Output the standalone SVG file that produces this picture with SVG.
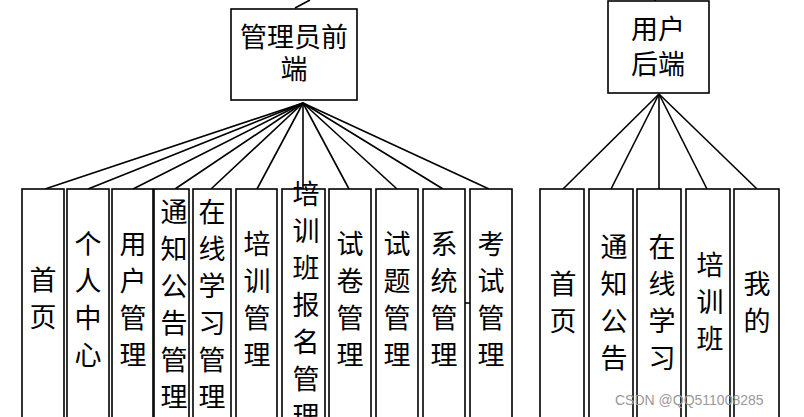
<svg xmlns="http://www.w3.org/2000/svg" width="804" height="417" viewBox="0 0 804 417">
<style>
.b{fill:#fff;stroke:#000;stroke-width:1.6}
.t{font-family:"Liberation Sans","Noto Sans CJK SC",sans-serif;font-size:27px;fill:#000;text-anchor:middle}
.c line{stroke:#000;stroke-width:1.6}
</style>
<rect width="804" height="417" fill="#fff"/>
<g class="c" id="connectors">
<line x1="295" y1="8" x2="310" y2="0"/>
<line x1="655" y1="0" x2="655" y2="1"/>
<line x1="303" y1="103" x2="45" y2="189"/>
<line x1="303" y1="103" x2="88" y2="189"/>
<line x1="303" y1="103" x2="133" y2="189"/>
<line x1="303" y1="103" x2="175" y2="189"/>
<line x1="303" y1="103" x2="211" y2="189"/>
<line x1="303" y1="103" x2="257" y2="189"/>
<line x1="303" y1="103" x2="303" y2="189"/>
<line x1="303" y1="103" x2="349" y2="189"/>
<line x1="303" y1="103" x2="397" y2="189"/>
<line x1="303" y1="103" x2="443" y2="189"/>
<line x1="303" y1="103" x2="489" y2="189"/>
<line x1="465" y1="303" x2="470" y2="303"/>
<line x1="659" y1="94" x2="563" y2="189"/>
<line x1="659" y1="94" x2="611" y2="189"/>
<line x1="659" y1="94" x2="659" y2="189"/>
<line x1="659" y1="94" x2="707" y2="189"/>
<line x1="659" y1="94" x2="757" y2="189"/>
</g>
<g id="admin"><rect class="b" x="231" y="9" width="126" height="91"/><text class="t" x="294" y="47">管理员前</text><text class="t" x="294" y="79">端</text></g>
<g id="user"><rect class="b" x="608" y="1" width="101" height="92"/><text class="t" x="658" y="39">用户</text><text class="t" x="658" y="74">后端</text></g>
<g id="a1"><rect class="b" x="22" y="189" width="42" height="240"/><text class="t" x="43" y="290">首<tspan x="43" dy="37">页</tspan></text></g>
<g id="a2"><rect class="b" x="67" y="189" width="42" height="240"/><text class="t" x="88" y="254">个<tspan x="88" dy="37">人</tspan><tspan x="88" dy="37">中</tspan><tspan x="88" dy="37">心</tspan></text></g>
<g id="a3"><rect class="b" x="112" y="189" width="41" height="240"/><text class="t" x="133" y="254">用<tspan x="133" dy="37">户</tspan><tspan x="133" dy="37">管</tspan><tspan x="133" dy="37">理</tspan></text></g>
<g id="a4"><rect class="b" x="154" y="189" width="35" height="240"/><text class="t" x="174" y="222">通<tspan x="174" dy="37">知</tspan><tspan x="174" dy="37">公</tspan><tspan x="174" dy="37">告</tspan><tspan x="174" dy="37">管</tspan><tspan x="174" dy="37">理</tspan></text></g>
<g id="a5"><rect class="b" x="193" y="189" width="38" height="240"/><text class="t" x="212" y="222">在<tspan x="212" dy="37">线</tspan><tspan x="212" dy="37">学</tspan><tspan x="212" dy="37">习</tspan><tspan x="212" dy="37">管</tspan><tspan x="212" dy="37">理</tspan></text></g>
<g id="a6"><rect class="b" x="236" y="189" width="41" height="240"/><text class="t" x="257" y="254">培<tspan x="257" dy="37">训</tspan><tspan x="257" dy="37">管</tspan><tspan x="257" dy="37">理</tspan></text></g>
<g id="a7"><rect class="b" x="282" y="189" width="43" height="240"/><text class="t" x="306" y="204">培<tspan x="306" dy="37">训</tspan><tspan x="306" dy="37">班</tspan><tspan x="306" dy="37">报</tspan><tspan x="306" dy="37">名</tspan><tspan x="306" dy="37">管</tspan><tspan x="306" dy="37">理</tspan></text></g>
<g id="a8"><rect class="b" x="329" y="189" width="42" height="240"/><text class="t" x="350" y="254">试<tspan x="350" dy="37">卷</tspan><tspan x="350" dy="37">管</tspan><tspan x="350" dy="37">理</tspan></text></g>
<g id="a9"><rect class="b" x="376" y="189" width="42" height="240"/><text class="t" x="397" y="254">试<tspan x="397" dy="37">题</tspan><tspan x="397" dy="37">管</tspan><tspan x="397" dy="37">理</tspan></text></g>
<g id="a10"><rect class="b" x="423" y="189" width="42" height="240"/><text class="t" x="444" y="254">系<tspan x="444" dy="37">统</tspan><tspan x="444" dy="37">管</tspan><tspan x="444" dy="37">理</tspan></text></g>
<g id="a11"><rect class="b" x="470" y="189" width="42" height="240"/><text class="t" x="491" y="254">考<tspan x="491" dy="37">试</tspan><tspan x="491" dy="37">管</tspan><tspan x="491" dy="37">理</tspan></text></g>
<g id="u1"><rect class="b" x="540" y="189" width="44" height="240"/><text class="t" x="563" y="294">首<tspan x="563" dy="37">页</tspan></text></g>
<g id="u2"><rect class="b" x="589" y="189" width="44" height="240"/><text class="t" x="614" y="257">通<tspan x="614" dy="37">知</tspan><tspan x="614" dy="37">公</tspan><tspan x="614" dy="37">告</tspan></text></g>
<g id="u3"><rect class="b" x="637" y="189" width="44" height="240"/><text class="t" x="662" y="257">在<tspan x="662" dy="37">线</tspan><tspan x="662" dy="37">学</tspan><tspan x="662" dy="37">习</tspan></text></g>
<g id="u4"><rect class="b" x="686" y="189" width="44" height="240"/><text class="t" x="710" y="275">培<tspan x="710" dy="37">训</tspan><tspan x="710" dy="37">班</tspan></text></g>
<g id="u5"><rect class="b" x="734" y="189" width="45" height="240"/><text class="t" x="757" y="294">我<tspan x="757" dy="37">的</tspan></text></g>
<text x="615" y="405" style="font-family:'Liberation Sans',sans-serif;font-size:14px;fill:#999">CSDN @QQ511008285</text>
</svg>
